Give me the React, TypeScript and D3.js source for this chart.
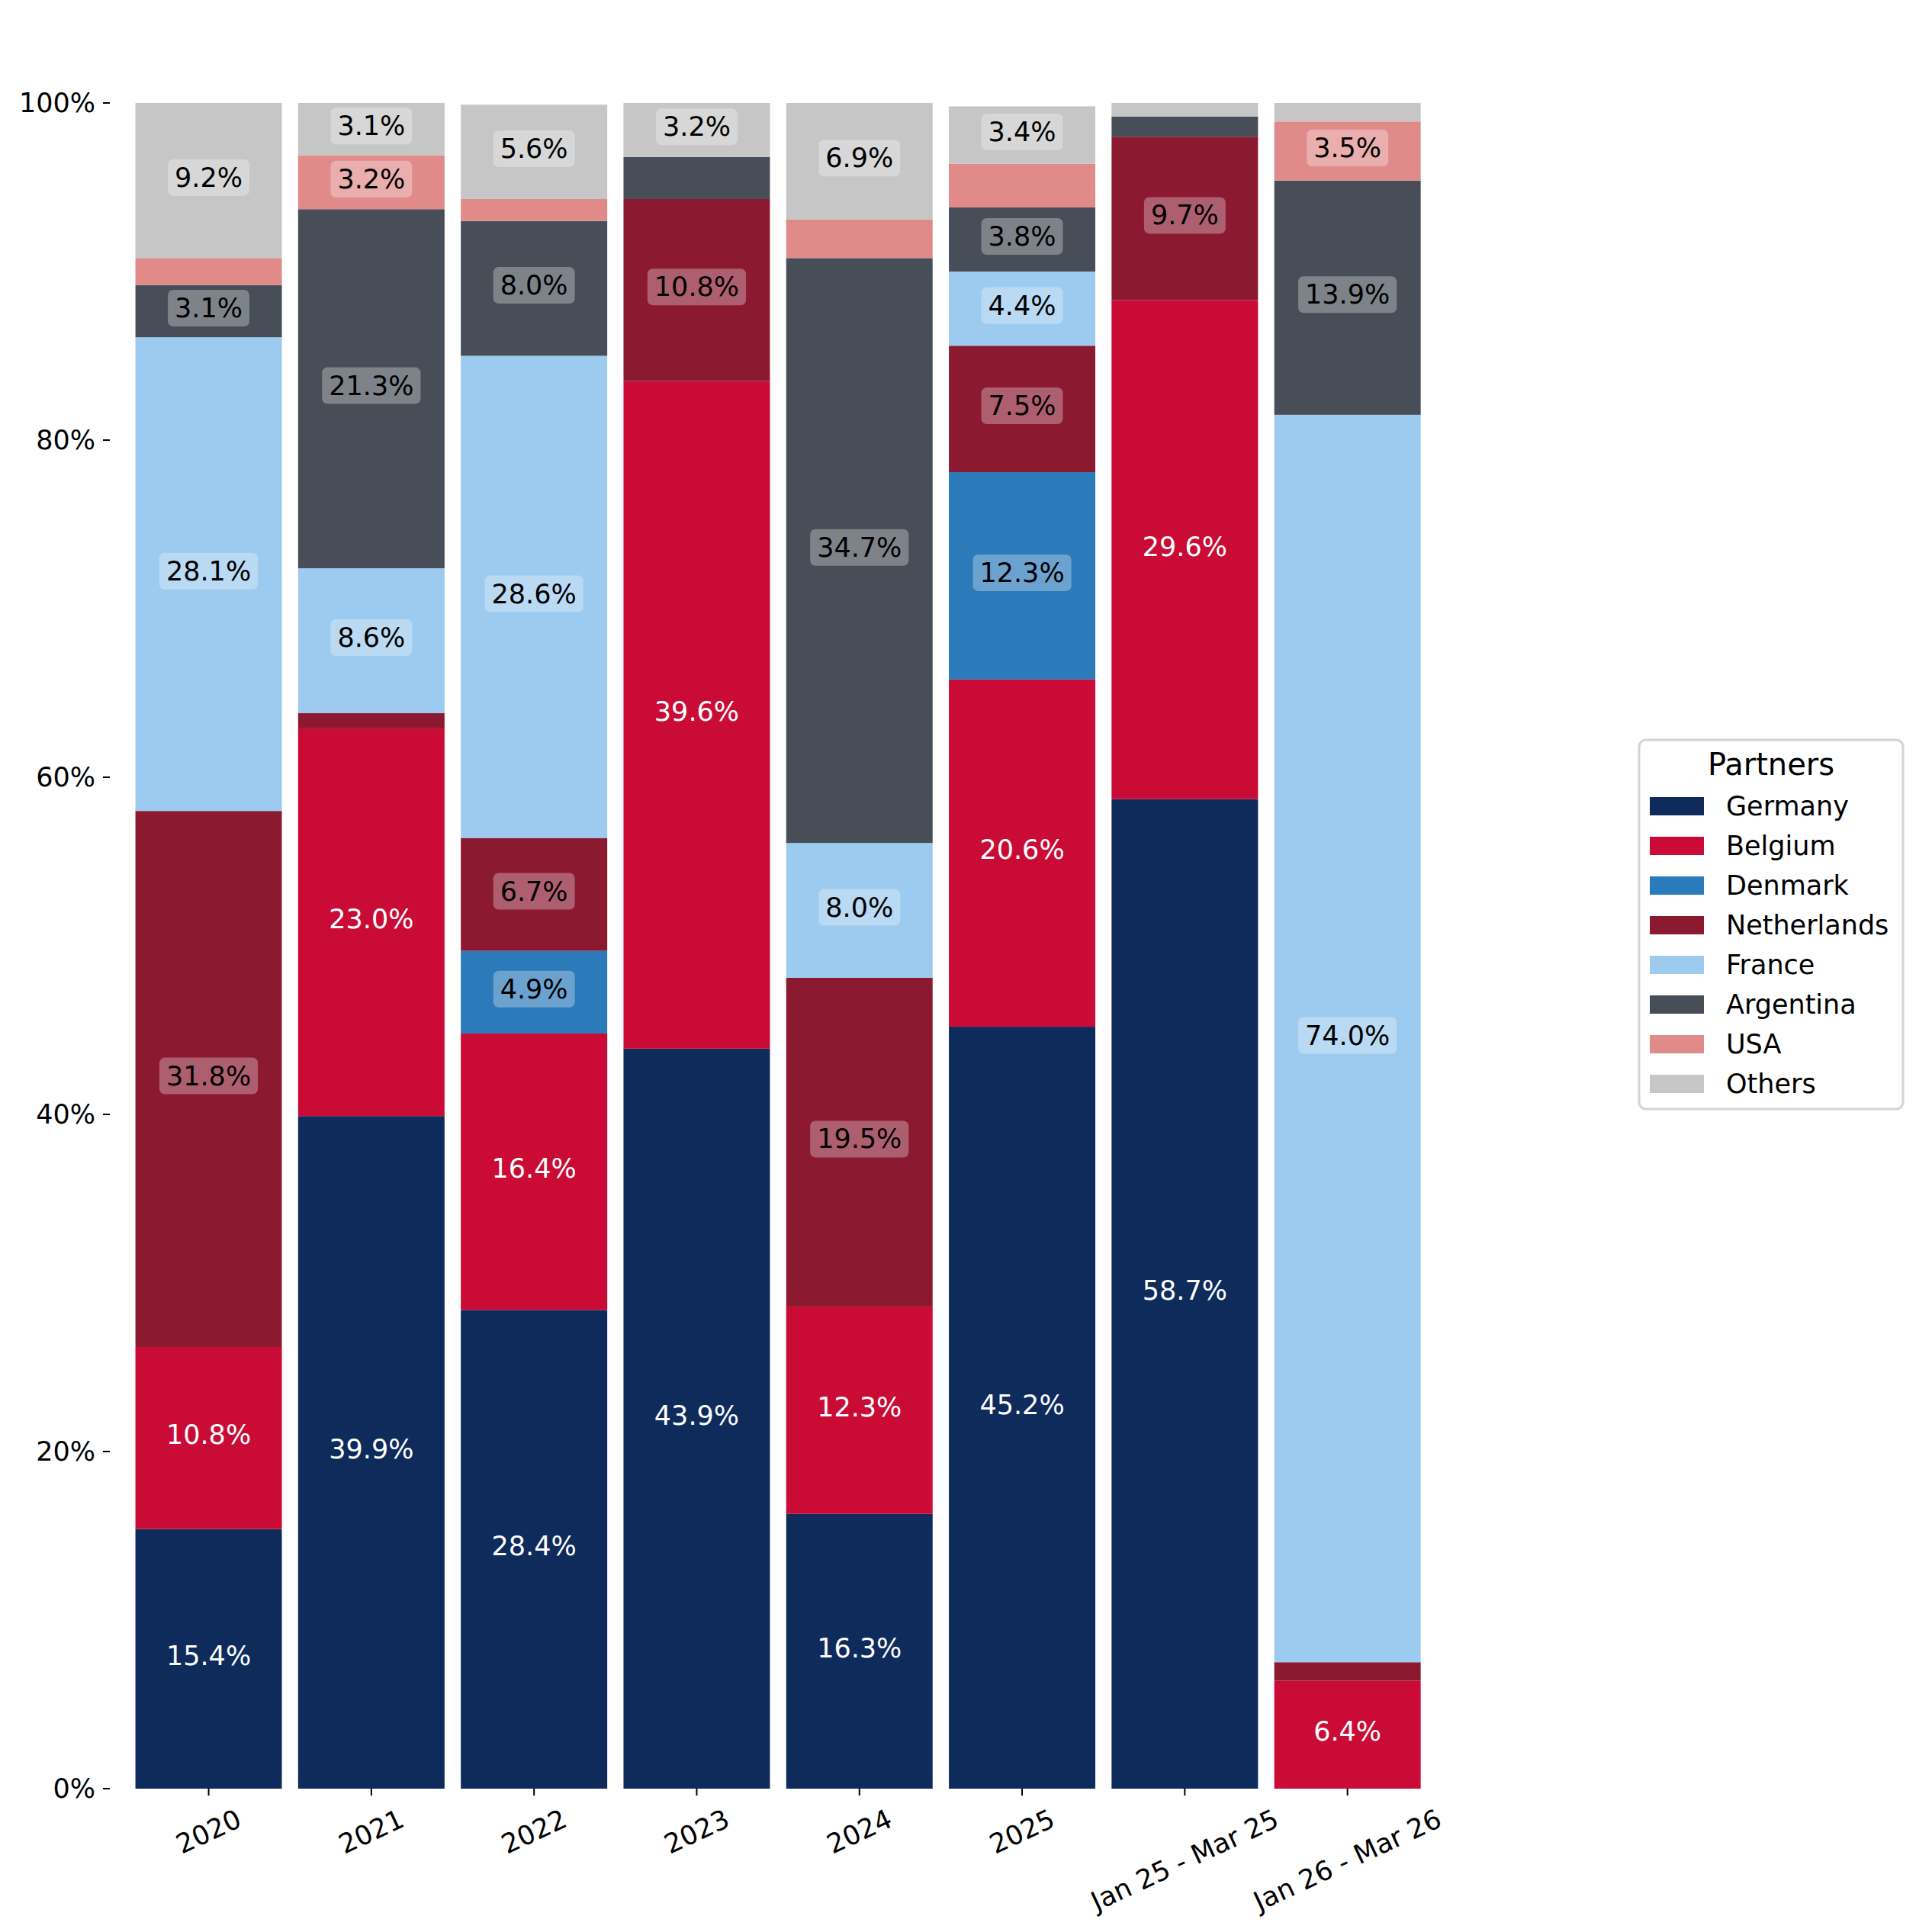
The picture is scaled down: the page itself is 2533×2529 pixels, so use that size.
import React, { useEffect } from "react";
import * as d3 from "d3";

const periods = ["2020", "2021", "2022", "2023", "2024", "2025", "Jan 25 - Mar 25", "Jan 26 - Mar 26"];
const partners = ["Germany", "Belgium", "Denmark", "Netherlands", "France", "Argentina", "USA", "Others"];
const partnerColors = ["#0e2b5c", "#c90b35", "#2b7aba", "#8b1a31", "#9dcbef", "#474e58", "#e08b8a", "#c6c6c6"];
const whiteLabelPartners = ["Germany", "Belgium"];

const germany = [15.4, 39.9, 28.4, 43.9, 16.3, 45.2, 58.7, 0];
const belgium = [10.8, 23.0, 16.4, 39.6, 12.3, 20.6, 29.6, 6.4];
const denmark = [0, 0, 4.9, 0, 0, 12.3, 0, 0];
const netherlands = [31.8, 0.9, 6.7, 10.8, 19.5, 7.5, 9.7, 1.1];
const france = [28.1, 8.6, 28.6, 0, 8.0, 4.4, 0, 74.0];
const argentina = [3.1, 21.3, 8.0, 2.5, 34.7, 3.8, 1.2, 13.9];
const usa = [1.6, 3.2, 1.3, 0, 2.3, 2.6, 0, 3.5];
const others = [9.2, 3.1, 5.6, 3.2, 6.9, 3.4, 0.8, 1.1];

const seriesValues = [germany, belgium, denmark, netherlands, france, argentina, usa, others];
const yTicks = [0, 20, 40, 60, 80, 100];
const labelThreshold = 3;

const W = 2533;
const H = 2529;
const FONT = "DejaVu Sans, Verdana, sans-serif";

let measureCtx: CanvasRenderingContext2D | null = null;
function textWidth(t: string, size: number): number {
  if (!measureCtx) {
    const c = document.createElement("canvas");
    measureCtx = c.getContext("2d");
  }
  if (!measureCtx) return t.length * size * 0.6;
  measureCtx.font = `${size}px "DejaVu Sans"`;
  return measureCtx.measureText(t).width;
}

export default function App() {
  useEffect(() => {
    document.body.style.margin = "0";
  }, []);

  const x = d3
    .scaleBand<string>()
    .domain(periods)
    .range([166.9, 1873.3])
    .paddingInner(0.1)
    .paddingOuter(0.05);
  const y = d3.scaleLinear().domain([0, 100]).range([2345, 135]);

  const table = periods.map((p, i) => {
    const row: Record<string, number | string> = { period: p };
    partners.forEach((name, k) => {
      row[name] = seriesValues[k][i];
    });
    return row;
  });
  const stacked = d3.stack<Record<string, number | string>>().keys(partners)(table as any);

  const fs = 35;
  const axisX = 144;
  const tickLen = 9;

  const angle = 25;
  const rad = (angle * Math.PI) / 180;

  return (
    <svg width={W} height={H} style={{ display: "block", background: "#fff" }} fontFamily={FONT}>
      {stacked.map((layer, k) => (
        <g key={partners[k]} fill={partnerColors[k]}>
          {layer.map((d, i) => {
            const h = y(d[0]) - y(d[1]);
            if (h <= 0) return null;
            return (
              <rect
                key={i}
                x={x(periods[i])}
                y={y(d[1])}
                width={x.bandwidth()}
                height={h}
              />
            );
          })}
        </g>
      ))}

      {stacked.map((layer, k) => (
        <g key={"lab" + partners[k]}>
          {layer.map((d, i) => {
            const v = seriesValues[k][i];
            if (v < labelThreshold) return null;
            const cx = (x(periods[i]) as number) + x.bandwidth() / 2;
            const cy = y((d[0] + d[1]) / 2) - 4;
            const txt = v.toFixed(1) + "%";
            const white = whiteLabelPartners.includes(partners[k]);
            const tw = textWidth(txt, fs);
            return (
              <g key={i}>
                {!white && (
                  <rect
                    x={cx - tw / 2 - 9}
                    y={cy - 24}
                    width={tw + 18}
                    height={48}
                    rx={7}
                    fill="#ffffff"
                    fillOpacity={0.3}
                  />
                )}
                <text
                  x={cx}
                  y={cy}
                  textAnchor="middle"
                  dominantBaseline="central"
                  fontSize={fs}
                  fill={white ? "#ffffff" : "#000000"}
                >
                  {txt}
                </text>
              </g>
            );
          })}
        </g>
      ))}

      {yTicks.map((t) => (
        <g key={"yt" + t}>
          <line x1={axisX - tickLen} x2={axisX} y1={y(t)} y2={y(t)} stroke="#000" strokeWidth={2} />
          <text x={axisX - tickLen - 10} y={y(t)} textAnchor="end" dominantBaseline="central" fontSize={fs} fill="#000">
            {t + "%"}
          </text>
        </g>
      ))}

      {periods.map((p) => {
        const cx = (x(p) as number) + x.bandwidth() / 2;
        const tw = textWidth(p, fs);
        const th = fs * 1.17;
        const top = y(0) + tickLen + 10;
        const cy = top + (tw * Math.sin(rad) + th * Math.cos(rad)) / 2;
        return (
          <g key={"xt" + p}>
            <line x1={cx} x2={cx} y1={y(0)} y2={y(0) + tickLen} stroke="#000" strokeWidth={2} />
            <text
              transform={`translate(${cx},${cy}) rotate(${-angle})`}
              textAnchor="middle"
              dominantBaseline="central"
              fontSize={fs}
              fill="#000"
            >
              {p}
            </text>
          </g>
        );
      })}

      <g>
        <rect x={2149} y={970} width={346} height={484} rx={9} fill="#fff" fillOpacity={0.8} stroke="#d4d4d4" strokeWidth={3} />
        <text x={2322} y={1002} textAnchor="middle" dominantBaseline="central" fontSize={40} fill="#000">
          Partners
        </text>
        {partners.map((name, k) => {
          const cy = 1057 + k * 52;
          return (
            <g key={"lg" + name}>
              <rect x={2163} y={cy - 12} width={71} height={24} fill={partnerColors[k]} />
              <text x={2263} y={cy} dominantBaseline="central" fontSize={fs} fill="#000">
                {name}
              </text>
            </g>
          );
        })}
      </g>
    </svg>
  );
}
